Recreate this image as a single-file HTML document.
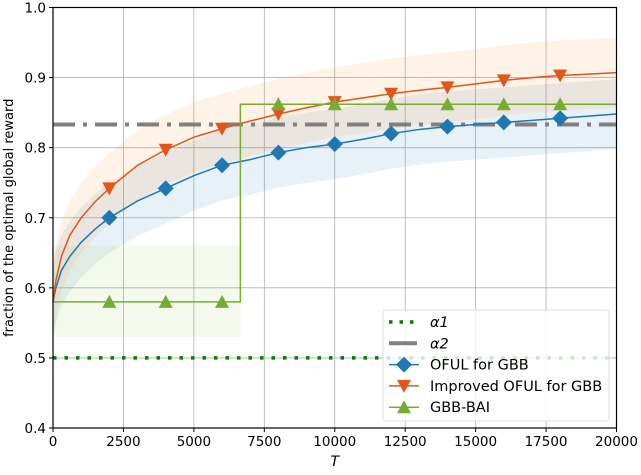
<!DOCTYPE html>
<html><head><meta charset="utf-8"><style>
body{margin:0;background:#fff;}
svg text{font-family:"DejaVu Sans","Liberation Sans",sans-serif;}
</style></head><body>
<svg id="chart" width="641" height="470" xmlns="http://www.w3.org/2000/svg"></svg>
<script>
const xTicks=[0,2500,5000,7500,10000,12500,15000,17500,20000];
const yTicks=[0.4,0.5,0.6,0.7,0.8,0.9,1.0];
const tSamples=[0,100,300,600,1000,1500,2000,3000,4000,5000,6000,7000,8000,9000,10000,11000,12000,13000,14000,15000,16000,17000,18000,19000,20000];
const ofulVals=[0.58,0.60,0.625,0.645,0.665,0.684,0.700,0.724,0.742,0.760,0.775,0.783,0.793,0.800,0.805,0.812,0.820,0.826,0.830,0.833,0.836,0.839,0.842,0.845,0.848];
const impVals=[0.58,0.61,0.645,0.675,0.700,0.723,0.742,0.775,0.797,0.815,0.827,0.838,0.848,0.857,0.865,0.871,0.877,0.882,0.886,0.891,0.896,0.900,0.903,0.905,0.907];
const baiT=[0,6650,6650,20000];
const baiVals=[0.58,0.58,0.862,0.862];
const markerT=[2000,4000,6000,8000,10000,12000,14000,16000,18000];
const alpha1=0.5, alpha2=0.833;
const bandWidth=0.05;
const NS="http://www.w3.org/2000/svg";
const svg=document.getElementById('chart');
const X0=53,X1=616.5,Y0=428,Y1=7.5;
const sx=t=>X0+(t/20000)*(X1-X0);
const sy=v=>Y0-(v-0.4)/0.6*(Y0-Y1);
function mk(tag,attrs,name,parent){const e=document.createElementNS(NS,tag);for(const k in attrs)e.setAttribute(k,attrs[k]);


(parent||svg).appendChild(e);return e;}
function interp(ts,vs,t){for(let i=0;i<ts.length-1;i++){if(t>=ts[i]&&t<=ts[i+1]){const f=(t-ts[i])/(ts[i+1]-ts[i]||1);return vs[i]+f*(vs[i+1]-vs[i]);}}return vs[vs.length-1];}
xTicks.forEach(t=>mk('line',{x1:sx(t),x2:sx(t),y1:Y1,y2:Y0,stroke:'#b0b0b0','stroke-width':0.8},'x-grid-line'));
yTicks.forEach(v=>mk('line',{x1:X0,x2:X1,y1:sy(v),y2:sy(v),stroke:'#b0b0b0','stroke-width':0.8},'y-grid-line'));
function band(vals,color,name,op){let up=tSamples.map((t,i)=>sx(t)+','+sy(vals[i]+bandWidth)).join(' ');
let lo=tSamples.slice().reverse().map((t,i)=>{const j=tSamples.length-1-i;return sx(t)+','+sy(vals[j]-bandWidth);}).join(' ');
mk('polygon',{points:up+' '+lo,fill:color,opacity:op},name);}
band(ofulVals,'#1f77b4','oful-band',0.1);
band(impVals,'#ff7f0e','improved-band',0.1);
mk('rect',{x:sx(0),y:sy(0.66),width:sx(6650)-sx(0),height:sy(0.53)-sy(0.66),fill:'#8bc34a',opacity:0.1},'bai-band');
mk('line',{x1:X0,x2:X1,y1:sy(alpha1),y2:sy(alpha1),stroke:'#008000','stroke-width':3.5,'stroke-dasharray':'3.5 8'},'alpha1-line');
mk('line',{x1:X0,x2:X1,y1:sy(alpha2),y2:sy(alpha2),stroke:'#808080','stroke-width':4,'stroke-dasharray':'22 8 4 8'},'alpha2-line');
function line(ts,vs,color,name){mk('polyline',{points:ts.map((t,i)=>sx(t)+','+sy(vs[i])).join(' '),fill:'none',stroke:color,'stroke-width':1.5},name);}
line(tSamples,ofulVals,'#1f77b4','oful-line');
line(tSamples,impVals,'#e0561b','improved-line');
line(baiT,baiVals,'#77ac30','bai-line');
function diamond(x,y,c,n){mk('polygon',{points:`${x},${y-8} ${x+8},${y} ${x},${y+8} ${x-8},${y}`,fill:c},n);}
function tdown(x,y,c,n){mk('polygon',{points:`${x-7},${y-6} ${x+7},${y-6} ${x},${y+7}`,fill:c},n);}
function tup(x,y,c,n){mk('polygon',{points:`${x-7},${y+6} ${x+7},${y+6} ${x},${y-7}`,fill:c},n);}
markerT.forEach(t=>{diamond(sx(t),sy(interp(tSamples,ofulVals,t)),'#1f77b4','oful-marker');
tdown(sx(t),sy(interp(tSamples,impVals,t)),'#e0561b','improved-marker');
tup(sx(t),sy(interp(baiT,baiVals,t)),'#77ac30','bai-marker');});
mk('rect',{x:X0,y:Y1,width:X1-X0,height:Y0-Y1,fill:'none',stroke:'#000','stroke-width':1.2},'plot-frame');
xTicks.forEach(t=>{mk('line',{x1:sx(t),x2:sx(t),y1:Y0,y2:Y0+4,stroke:'#000'},'x-tick');
const tx=mk('text',{x:sx(t),y:Y0+18,'text-anchor':'middle','font-size':13.5},'x-tick-label');tx.textContent=t;});
yTicks.forEach(v=>{mk('line',{x1:X0-4,x2:X0,y1:sy(v),y2:sy(v),stroke:'#000'},'y-tick');
const tx=mk('text',{x:X0-7,y:sy(v)+5,'text-anchor':'end','font-size':13.5},'y-tick-label');tx.textContent=v.toFixed(1);});
const xl=mk('text',{x:(X0+X1)/2,y:466,'text-anchor':'middle','font-size':14,'font-style':'italic'},'x-axis-title');xl.textContent='T';
const yl=mk('text',{x:0,y:0,'text-anchor':'middle','font-size':13,transform:`translate(13,${(Y0+Y1)/2}) rotate(-90)`},'y-axis-title');yl.textContent='fraction of the optimal global reward';
const lg=mk('g',{},'legend');
mk('rect',{x:383,y:310,width:226,height:111,rx:3,fill:'#fff','fill-opacity':0.8,stroke:'#ddd'},'legend-box',lg);
const items=[['α1','alpha1'],['α2','alpha2'],['OFUL for GBB','oful'],['Improved OFUL for GBB','improved'],['GBB-BAI','bai']];
items.forEach((it,i)=>{const y=322+i*21.3;const g=mk('g',{},'legend-entry',lg);
if(it[1]==='alpha1')mk('line',{x1:389,x2:417,y1:y,y2:y,stroke:'#008000','stroke-width':3.5,'stroke-dasharray':'3.5 7'},'legend-swatch',g);
else if(it[1]==='alpha2')mk('line',{x1:389,x2:417,y1:y,y2:y,stroke:'#808080','stroke-width':4},'legend-swatch',g);
else{const c={oful:'#1f77b4',improved:'#e0561b',bai:'#77ac30'}[it[1]];
mk('line',{x1:389,x2:419,y1:y,y2:y,stroke:c,'stroke-width':1.5},'legend-swatch',g);
if(it[1]==='oful')diamond(404,y,c,'legend-marker');else if(it[1]==='improved')tdown(404,y,c,'legend-marker');else tup(404,y,c,'legend-marker');}
const tx=mk('text',{x:430,y:y+5,'font-size':14.5,'font-style':i<2?'italic':'normal'},'legend-label',g);tx.textContent=it[0];});
</script>
</body></html>
